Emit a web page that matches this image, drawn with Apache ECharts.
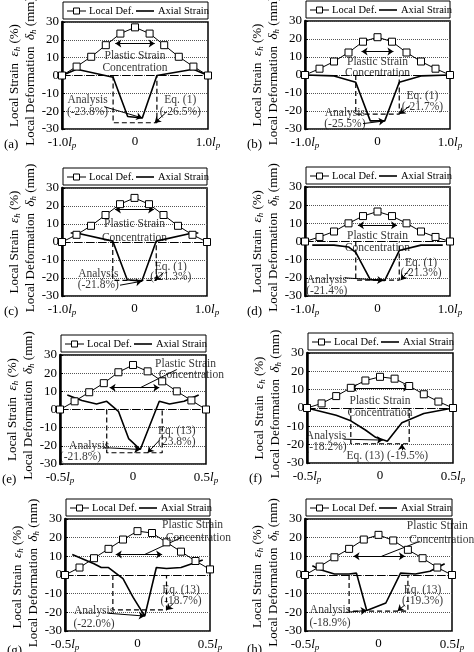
<!DOCTYPE html>
<html><head><meta charset="utf-8">
<script src="https://cdn.jsdelivr.net/npm/echarts@6/dist/echarts.min.js"></script>
<style>html,body{margin:0;padding:0;background:#fff}#c{width:474px;height:652px}</style>
</head><body><div id="c"></div>
<script>
const panelNames = ['(a)','(b)','(c)','(d)','(e)','(f)','(g)','(h)'];
const yTicks = [-30,-20,-10,0,10,20,30];
const xLongLabels = ['-1.0','0','1.0'];
const xShortLabels = ['-0.5','0','0.5'];
const legendNames = ['Local Def.','Axial Strain'];
// Local deformation values at 11 equally spaced positions across each panel
const ldA = [0,5,10.5,17,23.5,27,23.5,17,10.5,5,0];
const ldB = [0,3.5,7.5,12.5,18.5,21,18.5,12.5,7.5,3.5,0];
const ldC = [0,4,9,15,21,24.5,21,15,9,4,0];
const ldD = [0,2.5,5.5,10,14,16.5,14,10,5.5,2.5,0];
const ldE = [0,4.5,9.5,14.5,20.5,24.5,21,15.5,10,5,0];
const ldF = [0,2.5,6.5,11,15,17,16,12,7.5,3.5,0];
const ldG = [0,4,9,14,19,23.5,22.5,17.5,12.5,7.5,3];
const ldH = [0,4.5,9.5,14,19,21.5,18.5,13.5,9,4,0];
// Axial strain [x, strain]
const asA = [[-1,0],[-0.8,3.5],[-0.3,-1],[-0.1,-23],[0.1,-23.8],[0.3,0],[0.8,3.5],[1,0]];
const asB = [[-1,0],[-0.6,-0.5],[-0.3,-4],[-0.1,-25.5],[0.1,-25.5],[0.3,-4],[0.6,-0.5],[1,0]];
const asC = [[-0.88,5],[-0.8,5],[-0.3,0.5],[-0.1,-21],[0.1,-21.8],[0.3,0.5],[0.8,5],[0.88,5]];
const asD = [[-0.9,-2],[-0.6,-2],[-0.4,-3],[-0.3,-6],[-0.1,-21],[0.1,-21.4],[0.3,-5],[0.6,-2],[0.9,-2]];
const asE = [[-0.45,8],[-0.35,5],[-0.25,3],[-0.18,4.5],[-0.1,-1],[-0.03,-16],[0.05,-22],[0.18,4.5],[0.25,3],[0.35,4.5],[0.45,8]];
const asF = [[-0.5,0],[-0.3,-4],[-0.2,-7],[-0.1,-12],[-0.03,-16],[0.05,-18.2],[0.15,-8],[0.3,-3],[0.5,0]];
const asG = [[-0.45,11],[-0.3,6],[-0.25,4],[-0.2,4],[-0.1,-2],[-0.03,-12],[0.05,-22],[0.13,4],[0.2,3.5],[0.3,4],[0.45,8]];
const asH = [[-0.45,5],[-0.4,3],[-0.3,0.5],[-0.2,0.5],[-0.15,1],[-0.08,-19],[0.05,-15],[0.15,1],[0.25,0.5],[0.35,2],[0.45,6]];
// Equation values and the span of the equivalent block
const eqVals = [-26.5,-21.7,-21.3,-21.3,-23.8,-19.5,-18.7,-19.3];
const eqSpans = [[-0.3,0.3],[-0.3,0.3],[-0.3,0.3],[-0.3,0.3],[-0.18,0.2],[-0.2,0.2],[-0.17,0.2],[-0.2,0.2]];
const eqLabels = ['Eq. (1)','Eq. (1)','Eq. (1)','Eq. (1)','Eq. (13)','Eq. (13)','Eq. (13)','Eq. (13)'];
const eqTexts = ['(-26.5%)','(-21.7%)','(-21.3%)','(-21.3%)','(23.8%)','(-19.5%)','(-18.7%)','(-19.3%)'];
const anaTexts = ['(-23.8%)','(-25.5%)','(-21.8%)','(-21.4%)','(-21.8%)','(-18.2%)','(-22.0%)','(-18.9%)'];

const lds = [ldA,ldB,ldC,ldD,ldE,ldF,ldG,ldH];
const ass = [asA,asB,asC,asD,asE,asF,asG,asH];
const grids = [[62,22,146,107],[305,21,145,108],[62,188,145,108],[305,187,145,109],
               [60,355,146,109],[307,353,146,110],[65,519,145,116],[305,519,147,115]];
// annotation placement (data coords)
const ann = [
 {psc:[-0.27,0.27,18], pt:[[0,11],[0,4]], ana:[[-0.65,-14],[-0.65,-20.5]], anaA:[-0.42,-17.5,0.1,-23.8], eq:[[0.62,-14],[0.62,-20.5]], eqA:[0.42,-21,0.27,-26.5]},
 {psc:[-0.22,0.22,13], pt:[[0,7],[0,1]], ana:[[-0.45,-21],[-0.45,-27]], anaA:[-0.2,-27,0.1,-25.5], eq:[[0.62,-11.5],[0.62,-17.5]], eqA:[0.45,-17,0.3,-21.7]},
 {psc:[-0.27,0.27,18], pt:[[0,10],[0,2]], ana:[[-0.5,-18],[-0.5,-24]], anaA:[-0.2,-24,0.1,-21.8], eq:[[0.5,-14],[0.5,-19.5]], eqA:[0.4,-17,0.28,-21.3]},
 {psc:[-0.27,0.27,9], pt:[[0,3],[0,-3.5]], ana:[[-0.7,-21],[-0.7,-27]], anaA:[-0.45,-20,0.08,-21.4], eq:[[0.6,-12],[0.6,-17.5]], eqA:[0.45,-15,0.32,-21.3]},
 {psc:[-0.16,0.18,12], pt:[[0.36,25],[0.4,19]], lead:[0.05,12,0.3,22], ana:[[-0.3,-20],[-0.36,-26]], anaA:[-0.2,-21,0.05,-22], eq:[[0.3,-12],[0.3,-18]], eqA:[0.18,-17,0.1,-23.8]},
 {psc:[-0.2,0.2,11], pt:[[0,4],[0,-2.5]], ana:[[-0.37,-15.5],[-0.37,-21.5]], anaA:[-0.25,-17,0.02,-17.5], eq:[[0.05,-26],null], eqA:[0.15,-23,0.15,-19.7], single:true},
 {psc:[-0.15,0.17,11], pt:[[0.38,27],[0.42,20]], lead:[0.05,11,0.3,20], ana:[[-0.3,-19.5],[-0.3,-26]], anaA:[-0.2,-20.5,0.05,-22], eq:[[0.3,-8],[0.3,-14]], eqA:[0.25,-15,0.2,-18.7]},
 {psc:[-0.17,0.18,10], pt:[[0.4,26],[0.43,19]], lead:[0.02,10,0.28,18], ana:[[-0.33,-19],[-0.33,-25.5]], anaA:[-0.22,-20,-0.08,-19], eq:[[0.3,-8],[0.3,-14]], eqA:[0.18,-16,0.13,-19.3]}
];
const F = 'Liberation Serif';
const chart = echarts.init(document.getElementById('c'));
const opt = {animation:false, grid:[], xAxis:[], yAxis:[], series:[], graphic:[]};
const subRich = {i:{fontFamily:F,fontStyle:'italic',fontSize:13,fill:'#000'},s:{fontFamily:F,fontStyle:'italic',fontSize:9,padding:[6,0,0,0],fill:'#000'}};
lds.forEach((ld,i)=>{
  const g = grids[i], wide = i<4, xm = wide?1:0.5;
  const labs = wide?xLongLabels:xShortLabels;
  opt.grid.push({left:g[0],top:g[1],width:g[2],height:g[3],show:true,borderColor:'#000',borderWidth:1.5});
  opt.xAxis.push({gridIndex:i,type:'value',min:-xm,max:xm,interval:xm,
    axisLine:{show:false},axisTick:{show:false},splitLine:{show:false},
    axisLabel:{margin:6,color:'#000',fontFamily:F,fontSize:13,
      formatter:v=>{const k=Math.round(v/xm)+1; return labs[k]==='0'?'{n|0}':'{n|'+labs[k]+'}{l|l}{s|p}';},
      rich:{n:{fontFamily:F,fontSize:13,color:'#000'},l:{fontFamily:F,fontStyle:'italic',fontSize:13,color:'#000'},s:{fontFamily:F,fontStyle:'italic',fontSize:9,color:'#000',padding:[6,0,0,0]}}}});
  opt.yAxis.push({gridIndex:i,type:'value',min:yTicks[0],max:yTicks[yTicks.length-1],interval:10,
    axisLine:{show:true,onZero:false,lineStyle:{color:'#000',width:2.5}},axisTick:{show:true,inside:true,length:3,lineStyle:{color:'#000'}},
    splitLine:{show:true,lineStyle:{color:'#555',type:'dotted',width:1}},
    axisLabel:{margin:3,color:'#000',fontFamily:F,fontSize:13}});
  const n = ld.length;
  opt.series.push({name:legendNames[0],type:'line',xAxisIndex:i,yAxisIndex:i,
    data:ld.map((v,k)=>[-xm+2*xm*k/(n-1),v]),symbol:'rect',symbolSize:7,
    itemStyle:{color:'#fff',borderColor:'#000',borderWidth:1},lineStyle:{color:'#000',width:1},z:5});
  opt.series.push({name:legendNames[1],type:'line',xAxisIndex:i,yAxisIndex:i,data:ass[i],symbol:'none',
    lineStyle:{color:'#000',width:1.6},z:4});
  const sp = eqSpans[i], ev = eqVals[i];
  opt.series.push({type:'line',xAxisIndex:i,yAxisIndex:i,data:[[sp[0],0],[sp[0],ev],[sp[1],ev],[sp[1],0]],symbol:'none',
    lineStyle:{color:'#000',width:1.2,type:[5,3]},z:3,
    markLine:{silent:true,symbol:'none',label:{show:false},lineStyle:{color:'#000',width:1.2,type:[8,4]},data:[{yAxis:0}]}});
  const a = ann[i];
  const lbl = (pos,txt)=>({value:pos,label:{formatter:txt}});
  const pts = [lbl(a.pt[0],'Plastic Strain'),lbl(a.pt[1],'Concentration'),lbl(a.ana[0],'Analysis'),lbl(a.ana[1],anaTexts[i])];
  if(a.single) pts.push(lbl(a.eq[0],eqLabels[i]+' '+eqTexts[i])); else {pts.push(lbl(a.eq[0],eqLabels[i])); pts.push(lbl(a.eq[1],eqTexts[i]));}
  const ml = [
    [{coord:[a.psc[0],a.psc[2]],symbol:'arrow'},{coord:[a.psc[1],a.psc[2]],symbol:'arrow'}],
    [{coord:[a.anaA[0],a.anaA[1]],symbol:'none'},{coord:[a.anaA[2],a.anaA[3]],symbol:'arrow'}],
    [{coord:[a.eqA[0],a.eqA[1]],symbol:'none'},{coord:[a.eqA[2],a.eqA[3]],symbol:'arrow'}]
  ];
  if(a.lead) ml.push([{coord:[a.lead[0],a.lead[1]],symbol:'none'},{coord:[a.lead[2],a.lead[3]],symbol:'none'}]);
  opt.series.push({type:'scatter',xAxisIndex:i,yAxisIndex:i,symbolSize:0,data:pts,z:6,clip:false,
    label:{show:true,position:'inside',color:'#000',fontFamily:F,fontSize:11.5},
    markLine:{silent:true,symbolSize:6,label:{show:false},lineStyle:{color:'#000',width:1,type:'solid'},data:ml}});
  // legend box drawn as graphics
  const lx = g[0]+1, ly = g[1]-20, lw = g[2]-1, lm = ly+9;
  opt.graphic.push({type:'rect',shape:{x:lx,y:ly,width:lw,height:17},style:{fill:'#fff',stroke:'#000',lineWidth:1}});
  opt.graphic.push({type:'line',shape:{x1:lx+4,y1:lm,x2:lx+23,y2:lm},style:{stroke:'#000',lineWidth:1}});
  opt.graphic.push({type:'rect',shape:{x:lx+10.5,y:lm-3,width:6,height:6},style:{fill:'#fff',stroke:'#000',lineWidth:1}});
  opt.graphic.push({type:'text',x:lx+26,y:lm,style:{text:legendNames[0],font:'10.5px "Liberation Serif"',fill:'#000',verticalAlign:'middle'}});
  opt.graphic.push({type:'line',shape:{x1:lx+73,y1:lm,x2:lx+91,y2:lm},style:{stroke:'#000',lineWidth:1.6}});
  opt.graphic.push({type:'text',x:lx+95,y:lm,style:{text:legendNames[1],font:'10.5px "Liberation Serif"',fill:'#000',verticalAlign:'middle'}});
  const cy = g[1]+g[3]/2;
  opt.graphic.push({type:'text',x:g[0]-47,y:cy,rotation:Math.PI/2,style:{text:'Local Strain  {i|ε}{s|h} (%)',rich:subRich,
    font:'13px "Liberation Serif"',fill:'#000',align:'center',verticalAlign:'middle'}});
  opt.graphic.push({type:'text',x:g[0]-31,y:cy-4,rotation:Math.PI/2,style:{text:'Local Deformation  {i|δ}{s|h} (mm)',rich:subRich,
    font:'13px "Liberation Serif"',fill:'#000',align:'center',verticalAlign:'middle'}});
  opt.graphic.push({type:'text',x:g[0]-58,y:g[1]+g[3]+9,style:{text:panelNames[i],font:'13px "Liberation Serif"',fill:'#000'}});
});
chart.setOption(opt);
</script></body></html>
